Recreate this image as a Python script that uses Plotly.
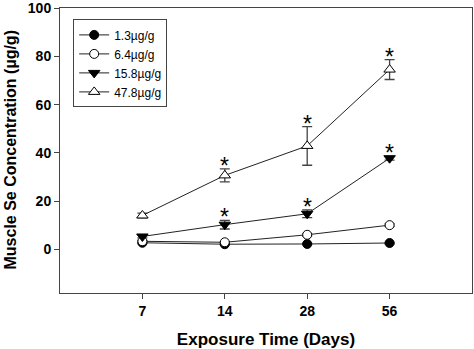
import plotly.graph_objects as go

# Exposure times (days) shown as evenly spaced categories
days = ["7", "14", "28", "56"]
pos = [1, 2, 3, 4]

# Muscle Se concentration (µg/g) by dietary Se level
se_1_3 = [2.8, 2.2, 2.3, 2.7]
se_6_4 = [3.4, 3.0, 6.1, 10.1]
se_15_8 = [5.4, 10.3, 14.8, 37.8]
se_47_8 = [14.1, 30.7, 42.9, 74.5]

# Standard errors
err_1_3 = [0.3, 0.3, 0.3, 0.3]
err_6_4 = [0.4, 0.3, 0.5, 0.5]
err_15_8 = [0.6, 1.8, 1.6, 0.8]
err_47_8 = [1.0, 2.7, 8.0, 4.1]

# Time points with a significant difference (marked with an asterisk)
sig_15_8 = [1, 2, 3]
sig_47_8 = [1, 2, 3]

labels = ["1.3µg/g", "6.4µg/g", "15.8µg/g", "47.8µg/g"]

fig = go.Figure()

series = [
    (se_1_3, err_1_3, "circle", "black"),
    (se_6_4, err_6_4, "circle", "white"),
    (se_15_8, err_15_8, "triangle-down", "black"),
    (se_47_8, err_47_8, "triangle-up", "white"),
]
for (vals, errs, sym, fill), name in zip(series, labels):
    fig.add_trace(go.Scatter(
        x=pos, y=vals, name=name, mode="lines+markers",
        line=dict(color="#222222", width=1),
        marker=dict(symbol=sym, size=9 if sym == "circle" else 10, color=fill,
                    line=dict(color="black", width=1)),
        error_y=dict(type="data", array=errs, color="#444444",
                     thickness=1.3, width=5),
    ))

annotations = []
for vals, errs, idxs in [(se_15_8, err_15_8, sig_15_8), (se_47_8, err_47_8, sig_47_8)]:
    for i in idxs:
        annotations.append(dict(
            x=pos[i], y=vals[i] + errs[i], text="*", showarrow=False,
            yanchor="bottom", yshift=-12,
            font=dict(family="Liberation Sans", size=23, color="black"),
        ))

# Y-axis title placed close to the left edge
annotations.append(dict(
    xref="paper", yref="paper", x=0, y=0.5, xanchor="center", yanchor="middle",
    xshift=-50, textangle=-90, showarrow=False,
    text="Muscle Se Concentration (µg/g)",
    font=dict(family="Liberation Sans", size=16, weight="bold", color="black"),
))

fig.update_layout(
    width=474, height=349,
    margin=dict(l=60, r=2, t=8, b=56, autoexpand=False),
    paper_bgcolor="white", plot_bgcolor="white",
    font=dict(family="Liberation Sans", color="black"),
    showlegend=True,
    legend=dict(
        x=0.032, y=0.96, xanchor="left", yanchor="top",
        bordercolor="#444444", borderwidth=1, bgcolor="white",
        font=dict(size=12), tracegroupgap=0, itemwidth=30,
    ),
    annotations=annotations,
    xaxis=dict(
        range=[0, 5], tickvals=pos, ticktext=days,
        showgrid=False, zeroline=False, automargin=False,
        showline=True, linecolor="#444444", linewidth=1, mirror=True,
        ticks="outside", ticklen=5, tickcolor="#444444",
        tickfont=dict(size=14, weight="bold"),
        title=dict(text="Exposure Time (Days)",
                   font=dict(size=17, weight="bold"), standoff=18),
    ),
    yaxis=dict(
        range=[-18, 100], tickvals=[0, 20, 40, 60, 80, 100],
        showgrid=False, zeroline=False, automargin=False,
        showline=True, linecolor="#444444", linewidth=1, mirror=True,
        ticks="outside", ticklen=5, tickcolor="#444444",
        tickfont=dict(size=14, weight="bold"),
        ticklabeloverflow="allow",
    ),
)

fig.write_html("out.html")
